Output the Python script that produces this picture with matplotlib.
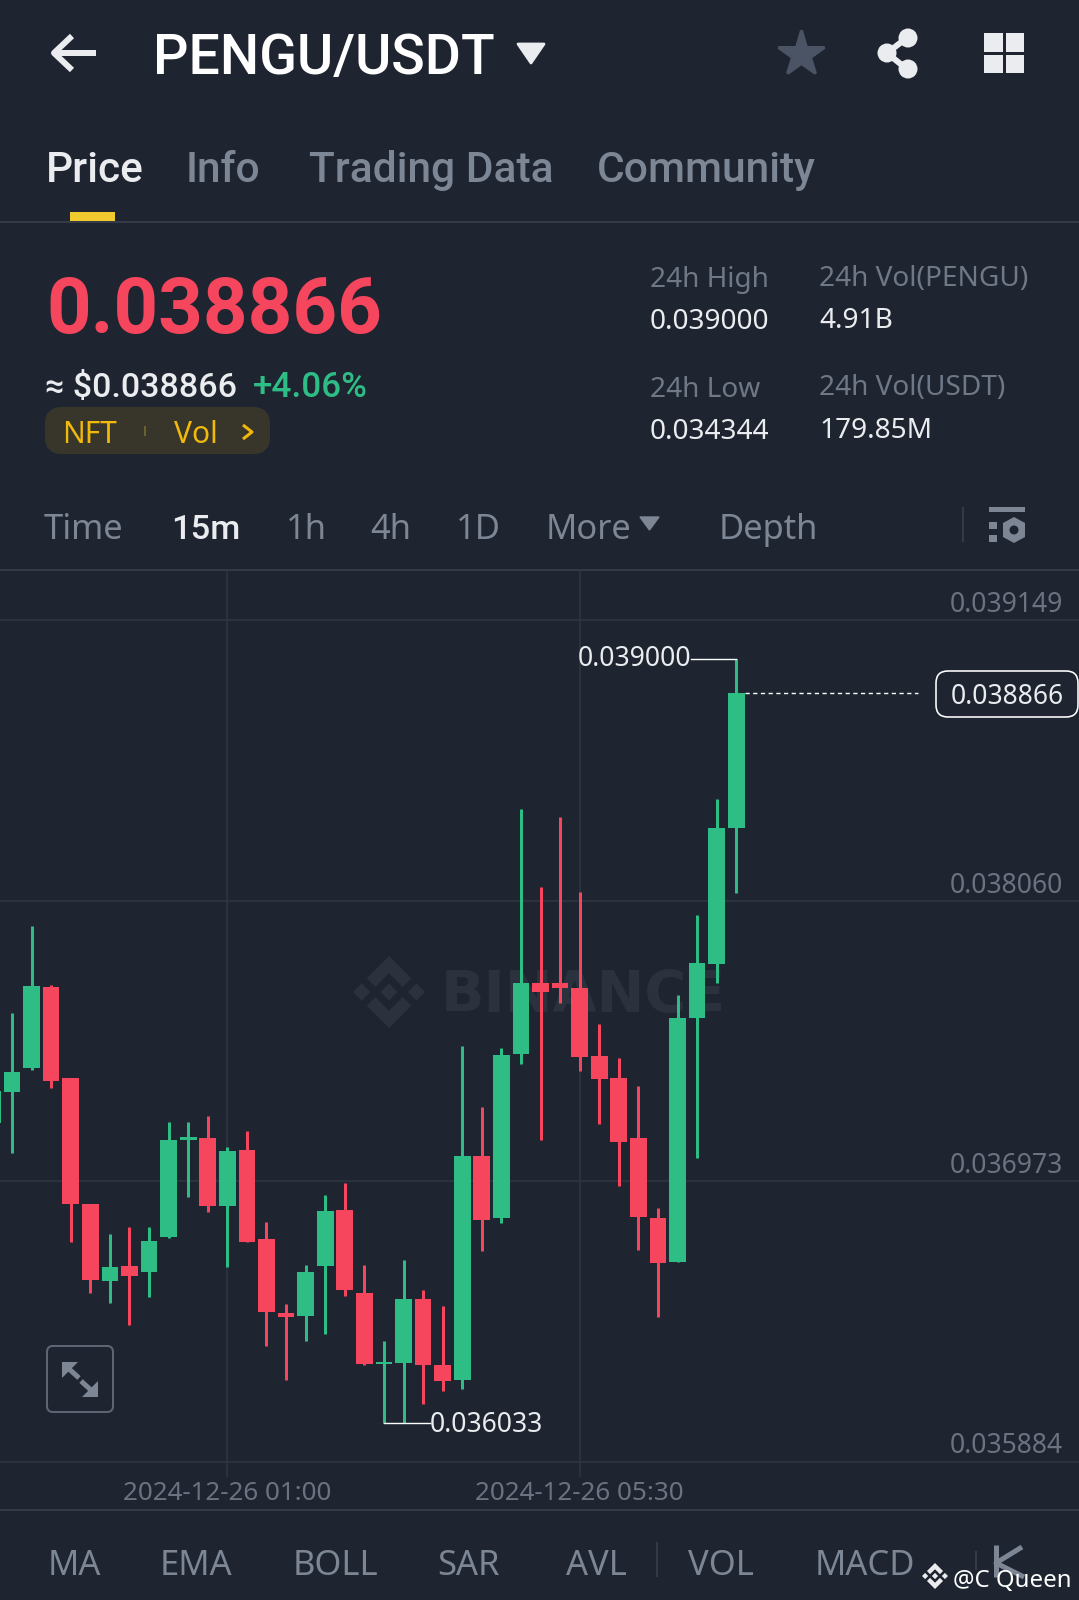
import matplotlib
matplotlib.use("Agg")
import matplotlib.pyplot as plt
from matplotlib.patches import FancyBboxPatch, Polygon, Circle, Rectangle

plt.rcParams['font.family'] = ['Noto Sans', 'DejaVu Sans']

BG = '#1e2530'
RED = '#f6465d'
GREEN = '#2ebd85'
WHITE = '#eaecef'
GREY = '#7d8695'
AXIS_GREY = '#6b7382'
LINE = '#343b47'
GRID = '#2f3642'

# 15m candles, left to right
opens = [0.037197, 0.037318, 0.037412, 0.037726, 0.037371, 0.036884, 0.036585, 0.036644,
         0.036618, 0.036754, 0.037131, 0.037141, 0.036877, 0.037093, 0.036747, 0.036460,
         0.036450, 0.036643, 0.036862, 0.036539, 0.036262, 0.036267, 0.036515, 0.036257,
         0.036202, 0.037072, 0.036830, 0.037466, 0.037742, 0.037740, 0.037722, 0.037459,
         0.037372, 0.037141, 0.036830, 0.036658, 0.037606, 0.037816, 0.038345]
closes = [0.037322, 0.037397, 0.037730, 0.037361, 0.036884, 0.036590, 0.036641, 0.036605,
          0.036740, 0.037131, 0.037142, 0.036876, 0.037088, 0.036738, 0.036463, 0.036446,
          0.036618, 0.036855, 0.036549, 0.036263, 0.036271, 0.036515, 0.036257, 0.036198,
          0.037072, 0.036820, 0.037461, 0.037740, 0.037707, 0.037722, 0.037454, 0.037370,
          0.037126, 0.036833, 0.036656, 0.037604, 0.037818, 0.038345, 0.038866]
highs = [0.037322, 0.037627, 0.037964, 0.037735, 0.037371, 0.036884, 0.036769, 0.036793,
         0.036793, 0.037203, 0.037204, 0.037225, 0.037106, 0.037166, 0.036813, 0.036497,
         0.036646, 0.036917, 0.036967, 0.036648, 0.036353, 0.036668, 0.036549, 0.036489,
         0.037498, 0.037259, 0.037488, 0.038419, 0.038116, 0.038385, 0.038094, 0.037584,
         0.037451, 0.037340, 0.036867, 0.037697, 0.038006, 0.038456, 0.039000]
lows = [0.037197, 0.037080, 0.037403, 0.037336, 0.036736, 0.036537, 0.036500, 0.036414,
        0.036521, 0.036750, 0.036910, 0.036852, 0.036640, 0.036738, 0.036334, 0.036199,
        0.036353, 0.036379, 0.036528, 0.036257, 0.036033, 0.036033, 0.036109, 0.036158,
        0.036165, 0.036702, 0.036811, 0.037427, 0.037131, 0.037665, 0.037400, 0.037195,
        0.036954, 0.036707, 0.036447, 0.036658, 0.037064, 0.037740, 0.038092]

price_ticks = [0.039149, 0.038060, 0.036973, 0.035884]
date_ticks = [12, 30]
date_labels = ['2024-12-26 01:00', '2024-12-26 05:30']
last_price = 0.038866
high_price = 0.039000
low_price = 0.036033

tabs = [('Price', 46, WHITE), ('Info', 186, GREY), ('Trading Data', 309, GREY), ('Community', 597, GREY)]
intervals = [('Time', 44, GREY), ('1h', 286, GREY), ('4h', 370, GREY),
             ('1D', 456, GREY), ('More', 546, GREY), ('Depth', 719, GREY)]
indicators = [('MA', 48), ('EMA', 160), ('BOLL', 293), ('SAR', 437), ('AVL', 566), ('VOL', 688), ('MACD', 815)]
stats = [('24h High', '0.039000', 650, 277, 319), ('24h Vol(PENGU)', '4.91B', 819, 276, 318),
         ('24h Low', '0.034344', 650, 387, 429), ('24h Vol(USDT)', '179.85M', 819, 385, 428)]

W, H = 1079, 1600
fig = plt.figure(figsize=(W / 100, H / 100), dpi=100, facecolor=BG)

# pixel layer behind the chart for the app screen
ov = fig.add_axes([0, 0, 1, 1], zorder=0)
ov.set_xlim(0, W)
ov.set_ylim(H, 0)
ov.axis('off')


def pt(px):
    return px * 72 / 100


def label(x, y, s, size, color=WHITE, weight='normal', ha='left', zorder=5, family=None):
    # y is the middle of the capitals
    ov.text(x, y + 0.357 * size, s, fontsize=pt(size), color=color, weight=weight,
            ha=ha, va='baseline', zorder=zorder, family=family)


def medium(x, y, s, size, color=WHITE):
    label(x, y, s, size, color, 'medium', family='Roboto')


def line(xs, ys, color, width, **kw):
    ov.plot(xs, ys, color=color, lw=pt(width), solid_capstyle=kw.pop('cap', 'butt'), **kw)


def binance_logo(cx, cy, s, color, zorder=1):
    unit = [
        [(0, -1), (.62, -.38), (.38, -.14), (0, -.52), (-.38, -.14), (-.62, -.38)],
        [(0, 1), (.62, .38), (.38, .14), (0, .52), (-.38, .14), (-.62, .38)],
        [(0, -.24), (.24, 0), (0, .24), (-.24, 0)],
        [(-.76, -.24), (-.52, 0), (-.76, .24), (-1, 0)],
        [(.76, -.24), (1, 0), (.76, .24), (.52, 0)],
    ]
    for shape in unit:
        ov.add_patch(Polygon([(cx + a * s, cy + b * s) for a, b in shape], fc=color, ec='none', zorder=zorder))


# header
line([54, 96], [53, 53], WHITE, 6)
line([72, 54, 72], [36, 53, 70], WHITE, 6)
medium(153, 54.5, 'PENGU/USDT', 55.5, 'white')
ov.add_patch(Polygon([(518, 44), (544, 44), (531, 63)], fc=WHITE, ec=WHITE, lw=2, joinstyle='round'))
ov.plot([801], [54], marker='*', ms=pt(48), mfc='#4a5465', mec='#4a5465', mew=pt(3))
line([908, 887, 908], [37, 53, 70], WHITE, 6)
for cx, cy in [(908, 38), (887, 53), (908, 69)]:
    ov.add_patch(Circle((cx, cy), 9.5, fc=WHITE, ec='none'))
for x0 in (984, 1005.5):
    for y0 in (33, 54.5):
        ov.add_patch(Rectangle((x0, y0), 18.5, 18.5, fc=WHITE, ec='none'))

# tabs
for name, x, col in tabs:
    medium(x, 167, name, 42.5, col)
ov.add_patch(Rectangle((70, 212), 45, 9, fc='#f0c92f', ec='none', zorder=3))
line([0, W], [222, 222], LINE, 2)

# price block
label(46, 305, '0.038866', 78, RED, 'bold', family='Roboto')
medium(45, 385, '≈ $0.038866', 34)
medium(253, 385, '+4.06%', 35, GREEN)
ov.add_patch(FancyBboxPatch((53, 415), 209, 31, boxstyle='round,pad=0,rounding_size=8',
                            mutation_aspect=1, fc='#38352a', ec='#38352a', lw=pt(16)))
label(62, 432, 'NFT', 30, '#f0b90b')
label(174, 432, 'Vol', 30, '#f0b90b')
line([145, 145], [426, 436], '#6b6030', 2)
line([243, 252, 243], [425, 432, 439], '#f0b90b', 3)

for head, val, x, y0, y1 in stats:
    label(x, y0, head, 28, '#6f7887')
    label(x, y1, val, 28, WHITE)

# interval bar
for name, x, col in intervals:
    label(x, 527, name, 34.5, col)
medium(171, 527, '15m', 34.5)
ov.add_patch(Polygon([(640, 517), (659, 517), (649.5, 530)], fc=GREY, ec=GREY, lw=1))
line([963, 963], [507, 542], LINE, 2)
ov.add_patch(Rectangle((989, 507), 36, 5, fc=GREY, ec='none'))
ov.add_patch(Rectangle((989, 522), 8, 7, fc=GREY, ec='none'))
ov.add_patch(Rectangle((989, 535), 8, 7, fc=GREY, ec='none'))
ov.add_patch(Polygon([(1014, 517), (1025, 523), (1025, 537), (1014, 543), (1003, 537), (1003, 523)],
                     fc=GREY, ec='none'))
ov.add_patch(Circle((1014, 530), 4.5, fc=BG, ec='none'))
line([0, W], [570, 570], LINE, 2)

# watermark sits under the candles
binance_logo(389, 992, 36, '#2b323e')
ov.text(441, 1012, 'BINANCE', fontsize=pt(57), family='DejaVu Sans', weight='bold',
        color='#2b323e', va='baseline', ha='left', zorder=1)

# expand button
ov.add_patch(FancyBboxPatch((47, 1346), 66, 66, boxstyle='round,pad=0,rounding_size=6',
                            fc='none', ec='#5e6675', lw=pt(2)))
ov.add_patch(Polygon([(62, 1362), (78, 1362), (62, 1378)], fc='#7d8695', ec='none'))
ov.add_patch(Polygon([(98, 1397), (82, 1397), (98, 1381)], fc='#7d8695', ec='none'))
line([68, 79], [1368, 1378], '#7d8695', 5)
line([92, 81], [1391, 1381], '#7d8695', 5)

# current price box
ov.add_patch(FancyBboxPatch((936, 671), 142, 46, boxstyle='round,pad=0,rounding_size=12',
                            fc=BG, ec='white', lw=pt(1.6), zorder=4))
label(1007, 695, '0.038866', 26.5, WHITE, ha='center')

# bottom dividers and indicators
line([0, W], [1510, 1510], LINE, 2)
for name, x in indicators:
    label(x, 1563, name, 34.5, GREY)
line([657, 657], [1542, 1577], LINE, 2)
line([976, 976], [1551, 1570], LINE, 2)
line([996, 996], [1545, 1577], '#7d8695', 5)
line([1022, 996, 1024], [1547, 1563, 1577], '#7d8695', 5)
binance_logo(935, 1576, 13, WHITE, zorder=6)
label(953, 1578, '@C Queen', 24, 'white', zorder=6)

# candle chart, one unit per candle, 19.576 px apart
PX_TOP, PX_BOTTOM = 570, 1477
ax = fig.add_axes([0, 1 - PX_BOTTOM / H, 1, (PX_BOTTOM - PX_TOP) / H], zorder=1)
ax.patch.set_alpha(0)
for s in ax.spines.values():
    s.set_visible(False)
ax.set_xlim(0.388, 55.506)
ax.set_ylim(0.035824, 0.039345)

ax.set_yticks(price_ticks)
ax.set_xticks(date_ticks)
ax.set_xticklabels(date_labels, fontsize=pt(26), color=AXIS_GREY)
ax.tick_params(axis='x', length=0, pad=pt(4.5))
ax.tick_params(axis='y', length=0, labelleft=False)
ax.grid(True, color=GRID, lw=pt(1.6))
ax.set_axisbelow(True)

idx = list(range(len(opens)))
cols = [GREEN if c >= o else RED for o, c in zip(opens, closes)]
ax.vlines(idx, lows, highs, colors=cols, lw=pt(3), zorder=3)
ax.bar(idx, [abs(c - o) for o, c in zip(opens, closes)], bottom=[min(o, c) for o, c in zip(opens, closes)],
       width=0.853, color=cols, zorder=4)

for p in price_ticks:
    ax.annotate(f'{p:.6f}', xy=(1, p), xycoords=('axes fraction', 'data'), xytext=(pt(-16), pt(8.4)),
                textcoords='offset points', ha='right', va='baseline', fontsize=pt(26.5), color=AXIS_GREY)

# high, low and last price markers
ax.plot([35.7, 38], [high_price, high_price], color='white', lw=pt(1.4), zorder=5)
ax.plot([20, 22.35], [low_price, low_price], color='white', lw=pt(1.4), zorder=5)
ax.annotate(f'{high_price:.6f}', xy=(35.69, high_price), xytext=(0, pt(-7.5)), textcoords='offset points',
            ha='right', va='baseline', fontsize=pt(26.5), color=WHITE)
ax.annotate(f'{low_price:.6f}', xy=(22.35, low_price), xytext=(0, pt(-8.5)), textcoords='offset points',
            ha='left', va='baseline', fontsize=pt(26.5), color=WHITE)
ax.plot([38.45, 47.28], [last_price, last_price], color='white', lw=pt(1.4), ls=(0, (3, 2.5)), zorder=5)

fig.savefig('out.png', dpi=100, facecolor=BG)
